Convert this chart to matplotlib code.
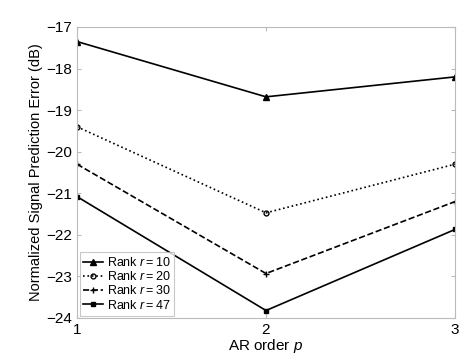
import matplotlib
matplotlib.use('Agg')
import matplotlib.pyplot as plt

plt.rcParams['font.family'] = ['Liberation Sans', 'DejaVu Sans']
plt.rcParams['mathtext.fontset'] = 'custom'
plt.rcParams['mathtext.rm'] = 'Liberation Sans'
plt.rcParams['mathtext.it'] = 'Liberation Sans:italic'

orders = [1, 2, 3]
rank10 = [-17.35, -18.68, -18.2]
rank20 = [-19.4, -21.47, -20.3]
rank30 = [-20.3, -22.93, -21.2]
rank47 = [-21.08, -23.82, -21.87]

fig = plt.figure(figsize=(4.74, 3.63), dpi=100)
ax = fig.add_axes([77/474, 1-318/363, (455-77)/474, (318-27)/363])

ax.plot(orders, rank10, 'k-', marker='^', ms=4, lw=1.2, label='Rank $\\mathit{r{=}10}$')
ax.plot(orders, rank20, 'k:', marker='o', ms=3.5, mfc='none', lw=1.2, label='Rank $\\mathit{r{=}20}$')
ax.plot(orders, rank30, 'k--', marker='+', ms=4, lw=1.2, label='Rank $\\mathit{r{=}30}$')
ax.plot(orders, rank47, 'k-', marker='s', ms=3, lw=1.2, label='Rank $\\mathit{r{=}47}$')

ax.set_xlim(1, 3)
ax.set_ylim(-24, -17)
ax.set_xticks([1, 2, 3])
ax.set_yticks(range(-24, -16))
ax.tick_params(direction='in', length=3, color='#bbbbbb', labelsize=11,
               top=True, right=True)
for s in ax.spines.values():
    s.set_color('#bbbbbb')
ax.set_xlabel('AR order $p$', fontsize=11, labelpad=0)
ax.set_ylabel('Normalized Signal Prediction Error (dB)', fontsize=10.5, labelpad=2)

leg = ax.legend(loc='lower left', fontsize=9, handlelength=1.6, borderpad=0.3,
                labelspacing=0.1, handletextpad=0.3, fancybox=False,
                borderaxespad=0.2)
leg.get_frame().set_edgecolor('#bbbbbb')
leg.get_frame().set_linewidth(0.8)

fig.savefig('out.png', dpi=100)
